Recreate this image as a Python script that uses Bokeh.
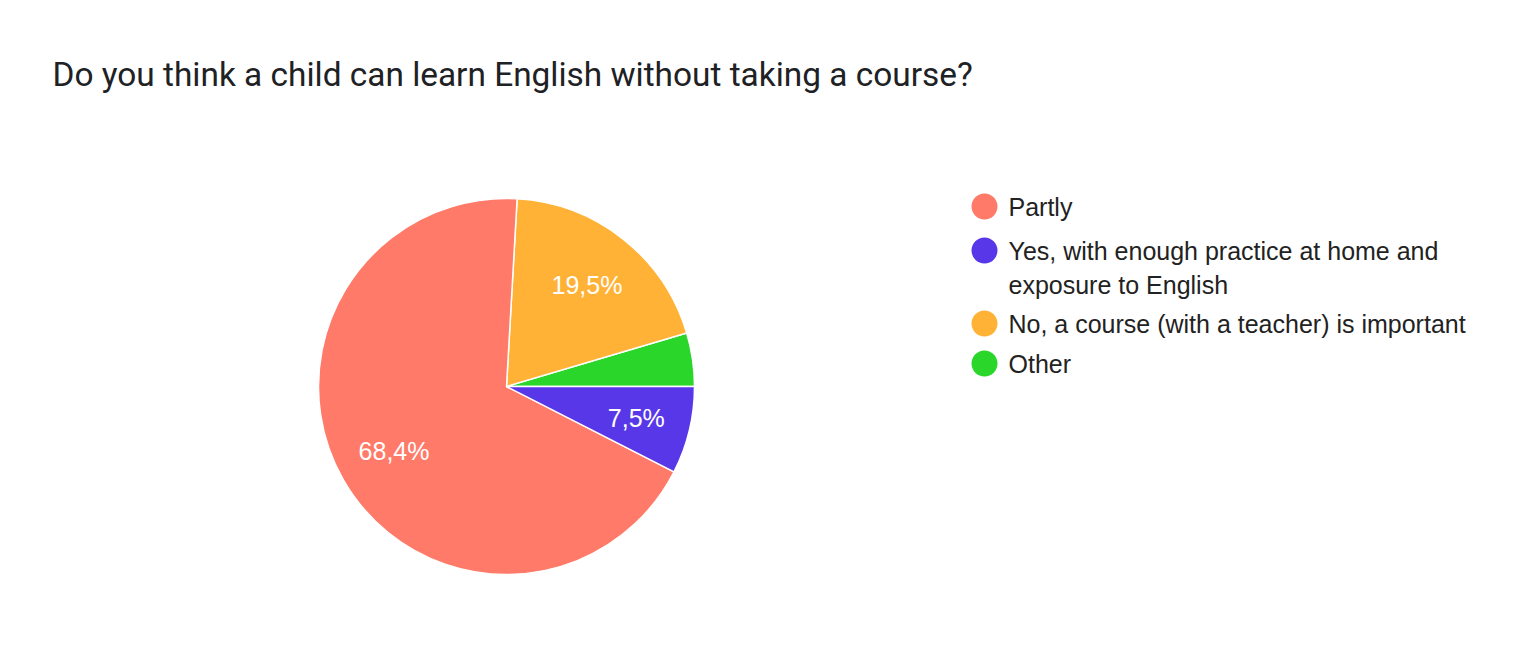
import math
from bokeh.plotting import figure
from bokeh.models import ColumnDataSource, Range1d
from bokeh.core.properties import value
from bokeh.embed import file_html
from bokeh.resources import INLINE

# ---- data ----
title_text = "Do you think a child can learn English without taking a course?"
categories = ["Partly",
              "Yes, with enough practice at home and\nexposure to English",
              "No, a course (with a teacher) is important",
              "Other"]
percent = [68.4, 7.5, 19.5, 4.6]
colors = ["#ff7a68", "#5837e8", "#ffb236", "#29d629"]
# drawing order, anticlockwise from 3 o'clock
draw_order = [3, 2, 0, 1]

# ---- layout ----
W, H = 1520, 631
def px(x):
    return x
def py(y):
    return H - y

p = figure(width=W, height=H, output_backend="svg", toolbar_location=None,
           x_range=Range1d(0, W), y_range=Range1d(0, H), min_border=0)
p.axis.visible = False
p.grid.visible = False
p.outline_line_color = None
p.background_fill_color = "white"
p.border_fill_color = "white"

cx, cy, R = px(506), py(386), 188
total = sum(percent)

starts, ends, fills, lx, ly, ltxt = [], [], [], [], [], []
acc = 0.0
for i in draw_order:
    a0 = acc / total * 2 * math.pi
    acc += percent[i]
    a1 = acc / total * 2 * math.pi
    starts.append(a0)
    ends.append(a1)
    fills.append(colors[i])
    if percent[i] >= 5:
        mid = (a0 + a1) / 2
        rr = 0.69 if percent[i] > 10 else 0.71
        lx.append(cx + rr * R * math.cos(mid))
        ly.append(cy + rr * R * math.sin(mid))
        ltxt.append(f"{percent[i]:.1f}%".replace(".", ","))

src = ColumnDataSource(dict(start=starts, end=ends, color=fills))
p.wedge(x=cx, y=cy, radius=R, start_angle="start", end_angle="end",
        source=src, fill_color="color", line_color="white", line_width=1.5)

p.text(x=lx, y=ly, text=ltxt, text_color="white", text_font=value("Liberation Sans"),
       text_font_size="25px", text_align="center", text_baseline="middle")

# title
p.text(x=[px(52)], y=[py(73.5)], text=[title_text], text_color="#202124",
       text_font=value("Roboto"), text_font_size="33.4px",
       text_align="left", text_baseline="middle")

# legend
row_y = [206, 250, 323, 363]
line_h = 34
mx, my, mc, tx, ty, tt = [], [], [], [], [], []
for i, cat in enumerate(categories):
    mx.append(px(984)); my.append(py(row_y[i])); mc.append(colors[i])
    for j, line in enumerate(cat.split("\n")):
        tx.append(px(1008)); ty.append(py(row_y[i] + j * line_h)); tt.append(line)
p.scatter(x=mx, y=my, size=26, fill_color=mc, line_color=None, marker="circle")
p.text(x=tx, y=ty, text=tt, text_color="#222222", text_font=value("Liberation Sans"),
       text_font_size="25px", text_align="left", text_baseline="middle")

open("out.html", "w").write(file_html(p, INLINE))
